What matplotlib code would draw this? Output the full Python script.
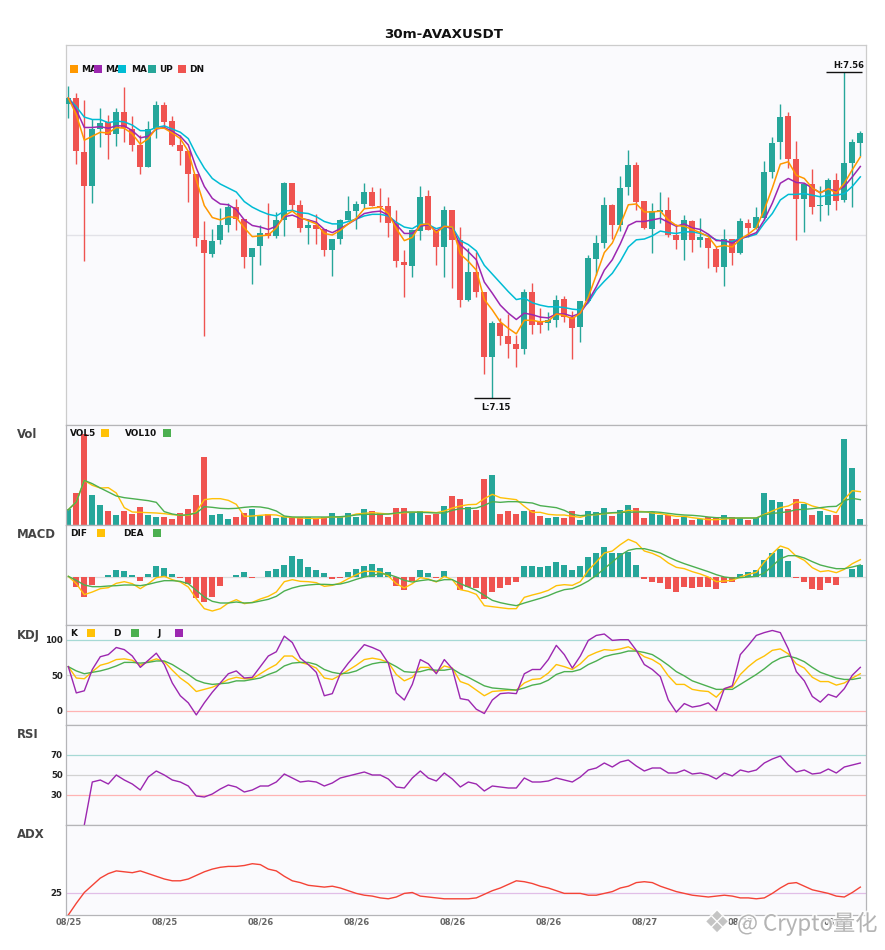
import matplotlib
matplotlib.use('Agg')
import matplotlib.pyplot as plt
import matplotlib.patheffects as pe
from matplotlib.patches import Rectangle

# candles
opens = [7.520, 7.527, 7.459, 7.416, 7.488, 7.497, 7.482, 7.510, 7.488, 7.468,
         7.441, 7.488, 7.518, 7.498, 7.468, 7.461, 7.431, 7.349, 7.331, 7.349,
         7.367, 7.390, 7.375, 7.327, 7.341, 7.358, 7.354, 7.374, 7.420, 7.393,
         7.364, 7.368, 7.362, 7.336, 7.350, 7.374, 7.385, 7.394, 7.409, 7.392,
         7.392, 7.370, 7.321, 7.316, 7.360, 7.404, 7.361, 7.340, 7.386, 7.349,
         7.274, 7.308, 7.284, 7.202, 7.244, 7.228, 7.218, 7.212, 7.284, 7.246,
         7.244, 7.249, 7.275, 7.252, 7.240, 7.272, 7.325, 7.345, 7.393, 7.368,
         7.415, 7.443, 7.398, 7.363, 7.384, 7.387, 7.355, 7.349, 7.373, 7.349,
         7.351, 7.338, 7.315, 7.350, 7.333, 7.370, 7.364, 7.377, 7.434, 7.472,
         7.505, 7.451, 7.400, 7.419, 7.392, 7.393, 7.424, 7.399, 7.446, 7.471]
closes = [7.527, 7.460, 7.416, 7.488, 7.496, 7.481, 7.510, 7.489, 7.468, 7.441,
          7.488, 7.518, 7.497, 7.468, 7.461, 7.432, 7.351, 7.332, 7.348, 7.367,
          7.390, 7.375, 7.327, 7.339, 7.358, 7.354, 7.374, 7.420, 7.393, 7.364,
          7.368, 7.362, 7.336, 7.350, 7.374, 7.385, 7.394, 7.409, 7.392, 7.390,
          7.370, 7.322, 7.317, 7.361, 7.403, 7.361, 7.340, 7.386, 7.349, 7.274,
          7.309, 7.284, 7.202, 7.244, 7.228, 7.218, 7.212, 7.284, 7.242, 7.242,
          7.249, 7.274, 7.252, 7.238, 7.272, 7.326, 7.345, 7.393, 7.368, 7.414,
          7.443, 7.397, 7.364, 7.385, 7.387, 7.355, 7.349, 7.374, 7.349, 7.353,
          7.339, 7.315, 7.350, 7.333, 7.372, 7.364, 7.378, 7.434, 7.471, 7.503,
          7.451, 7.400, 7.419, 7.390, 7.393, 7.424, 7.398, 7.446, 7.472, 7.483]
highs = [7.542, 7.533, 7.525, 7.501, 7.514, 7.506, 7.514, 7.541, 7.505, 7.481,
         7.498, 7.523, 7.522, 7.505, 7.481, 7.461, 7.431, 7.372, 7.362, 7.389,
         7.395, 7.400, 7.375, 7.339, 7.367, 7.395, 7.384, 7.422, 7.420, 7.399,
         7.374, 7.382, 7.362, 7.350, 7.375, 7.404, 7.398, 7.420, 7.415, 7.414,
         7.403, 7.386, 7.336, 7.361, 7.417, 7.412, 7.361, 7.391, 7.386, 7.365,
         7.339, 7.334, 7.284, 7.247, 7.251, 7.256, 7.230, 7.287, 7.295, 7.264,
         7.259, 7.280, 7.279, 7.260, 7.272, 7.330, 7.355, 7.403, 7.394, 7.429,
         7.462, 7.447, 7.398, 7.395, 7.409, 7.403, 7.369, 7.380, 7.374, 7.377,
         7.351, 7.341, 7.362, 7.350, 7.377, 7.375, 7.390, 7.448, 7.478, 7.520,
         7.510, 7.473, 7.419, 7.438, 7.417, 7.427, 7.433, 7.560, 7.476, 7.486]
lows = [7.502, 7.444, 7.323, 7.395, 7.466, 7.451, 7.467, 7.472, 7.460, 7.432,
        7.440, 7.477, 7.491, 7.467, 7.443, 7.397, 7.341, 7.228, 7.327, 7.344,
        7.359, 7.361, 7.314, 7.293, 7.317, 7.351, 7.351, 7.354, 7.387, 7.359,
        7.344, 7.344, 7.329, 7.304, 7.344, 7.374, 7.363, 7.389, 7.391, 7.371,
        7.353, 7.315, 7.277, 7.302, 7.349, 7.361, 7.317, 7.302, 7.289, 7.265,
        7.272, 7.277, 7.181, 7.150, 7.217, 7.201, 7.190, 7.206, 7.231, 7.232,
        7.236, 7.240, 7.246, 7.200, 7.221, 7.271, 7.305, 7.339, 7.350, 7.360,
        7.405, 7.387, 7.363, 7.333, 7.370, 7.352, 7.338, 7.324, 7.334, 7.340,
        7.314, 7.309, 7.291, 7.318, 7.331, 7.352, 7.362, 7.374, 7.427, 7.451,
        7.439, 7.349, 7.359, 7.382, 7.373, 7.380, 7.387, 7.397, 7.390, 7.454]

ma_fast = [7.527, 7.506, 7.474, 7.479, 7.484, 7.483, 7.490, 7.489, 7.482, 7.469,
           7.476, 7.489, 7.489, 7.483, 7.476, 7.460, 7.424, 7.392, 7.377, 7.374,
           7.378, 7.377, 7.364, 7.353, 7.354, 7.355, 7.364, 7.379, 7.385, 7.377,
           7.373, 7.369, 7.357, 7.355, 7.361, 7.369, 7.376, 7.388, 7.389, 7.390,
           7.382, 7.363, 7.348, 7.352, 7.368, 7.369, 7.358, 7.366, 7.365, 7.331,
           7.322, 7.311, 7.274, 7.261, 7.246, 7.238, 7.231, 7.248, 7.248, 7.246,
           7.247, 7.256, 7.254, 7.250, 7.257, 7.277, 7.305, 7.333, 7.345, 7.368,
           7.393, 7.394, 7.384, 7.384, 7.385, 7.374, 7.367, 7.366, 7.362, 7.358,
           7.353, 7.340, 7.342, 7.340, 7.350, 7.356, 7.364, 7.387, 7.414, 7.444,
           7.447, 7.430, 7.426, 7.414, 7.408, 7.413, 7.408, 7.420, 7.437, 7.453]
ma_mid = [7.527, 7.512, 7.490, 7.490, 7.491, 7.489, 7.492, 7.492, 7.486, 7.477,
          7.479, 7.488, 7.490, 7.485, 7.479, 7.468, 7.439, 7.416, 7.401, 7.394,
          7.393, 7.387, 7.374, 7.367, 7.365, 7.362, 7.366, 7.378, 7.380, 7.376,
          7.374, 7.371, 7.362, 7.358, 7.363, 7.369, 7.375, 7.382, 7.384, 7.385,
          7.380, 7.368, 7.357, 7.357, 7.366, 7.368, 7.360, 7.366, 7.363, 7.343,
          7.334, 7.324, 7.296, 7.282, 7.267, 7.257, 7.249, 7.257, 7.255, 7.252,
          7.251, 7.256, 7.256, 7.253, 7.257, 7.272, 7.290, 7.311, 7.324, 7.344,
          7.367, 7.372, 7.372, 7.374, 7.376, 7.371, 7.366, 7.369, 7.364, 7.362,
          7.356, 7.348, 7.348, 7.345, 7.350, 7.354, 7.358, 7.374, 7.395, 7.420,
          7.426, 7.421, 7.420, 7.414, 7.408, 7.413, 7.410, 7.416, 7.428, 7.441]
ma_slow = [7.527, 7.516, 7.503, 7.500, 7.500, 7.496, 7.498, 7.497, 7.493, 7.486,
           7.486, 7.490, 7.492, 7.488, 7.484, 7.476, 7.456, 7.439, 7.426, 7.419,
           7.414, 7.409, 7.397, 7.390, 7.385, 7.381, 7.379, 7.385, 7.386, 7.383,
           7.382, 7.378, 7.372, 7.369, 7.369, 7.372, 7.375, 7.379, 7.381, 7.381,
           7.379, 7.371, 7.365, 7.363, 7.369, 7.368, 7.363, 7.366, 7.365, 7.348,
           7.343, 7.335, 7.317, 7.306, 7.295, 7.284, 7.274, 7.276, 7.270, 7.267,
           7.265, 7.265, 7.264, 7.262, 7.261, 7.270, 7.286, 7.297, 7.307, 7.322,
           7.340, 7.349, 7.350, 7.354, 7.360, 7.358, 7.357, 7.359, 7.359, 7.357,
           7.354, 7.349, 7.347, 7.347, 7.351, 7.353, 7.356, 7.370, 7.382, 7.399,
           7.406, 7.406, 7.407, 7.405, 7.403, 7.405, 7.405, 7.407, 7.416, 7.428]

volume = [47, 95, 274, 89, 59, 41, 29, 41, 32, 53,
          29, 23, 23, 17, 35, 47, 89, 203, 29, 32,
          17, 23, 35, 47, 26, 32, 20, 23, 23, 23,
          23, 20, 23, 35, 23, 35, 23, 47, 41, 35,
          23, 50, 50, 38, 41, 29, 32, 56, 86, 77,
          53, 44, 137, 149, 32, 41, 32, 41, 44, 26,
          20, 23, 20, 41, 14, 41, 38, 50, 26, 44,
          59, 50, 20, 38, 29, 29, 17, 23, 14, 17,
          23, 20, 29, 23, 20, 14, 20, 95, 74, 68,
          47, 77, 62, 29, 41, 29, 29, 257, 170, 17]
vol5 = [46, 69, 134, 119, 111, 112, 96, 52, 39, 38,
        37, 36, 34, 31, 29, 29, 39, 76, 79, 79,
        74, 62, 26, 27, 29, 31, 30, 24, 23, 21,
        20, 19, 22, 24, 24, 26, 33, 35, 37, 35,
        33, 35, 37, 38, 39, 39, 37, 42, 51, 57,
        61, 62, 79, 92, 82, 79, 76, 56, 38, 38,
        32, 30, 30, 26, 23, 30, 31, 34, 36, 37,
        44, 41, 40, 36, 34, 30, 26, 26, 22, 19,
        16, 16, 18, 20, 21, 21, 21, 32, 42, 52,
        57, 69, 67, 57, 51, 44, 37, 77, 103, 100]
vol10 = [46, 69, 134, 124, 111, 99, 87, 82, 79, 76,
         73, 68, 40, 33, 29, 31, 36, 55, 53, 50,
         49, 50, 53, 55, 54, 50, 42, 27, 24, 24,
         24, 24, 24, 24, 25, 27, 30, 32, 32, 32,
         33, 36, 39, 39, 38, 37, 36, 36, 44, 49,
         49, 51, 59, 70, 68, 70, 70, 68, 66, 58,
         55, 52, 44, 32, 28, 30, 33, 35, 37, 38,
         38, 39, 39, 40, 38, 35, 32, 30, 29, 27,
         24, 22, 22, 21, 21, 21, 21, 30, 35, 37,
         40, 46, 47, 49, 52, 55, 56, 73, 80, 76]

macd_hist = [0, -32, -62, -26, -2, 4, 19, 16, 4, -14,
             7, 31, 25, 7, -5, -23, -65, -77, -62, -29,
             0, 4, 13, -5, 0, 16, 22, 34, 61, 52,
             28, 19, 10, -8, -5, 13, 22, 31, 37, 25,
             13, -29, -41, -14, 19, 10, -5, 16, 0, -41,
             -32, -35, -68, -47, -35, -26, -17, 31, 31, 28,
             31, 43, 34, 19, 31, 58, 70, 88, 70, 70,
             73, 34, -8, -17, -20, -38, -47, -32, -35, -32,
             -32, -38, -20, -17, 7, 13, 19, 49, 70, 82,
             46, -5, -17, -38, -41, -20, -26, 0, 22, 34]
dif = [1, -21, -54, -46, -36, -33, -20, -15, -21, -36,
       -21, -3, 1, -9, -16, -31, -66, -96, -103, -96,
       -79, -69, -81, -77, -67, -59, -46, -15, -9, -14,
       -15, -18, -29, -26, -19, -6, 6, 16, 16, 14,
       2, -21, -34, -21, -3, -7, -16, 1, -9, -39,
       -44, -53, -87, -90, -93, -96, -96, -62, -55, -49,
       -41, -27, -24, -26, -15, 19, 44, 71, 77, 96,
       112, 102, 77, 70, 59, 41, 28, 24, 15, 8,
       -1, -15, -13, -11, -1, 7, 13, 44, 69, 92,
       84, 61, 49, 27, 15, 18, 12, 22, 39, 51]
dea = [1, -11, -25, -30, -30, -28, -27, -25, -25, -27,
       -23, -17, -12, -12, -14, -21, -41, -61, -74, -79,
       -79, -76, -79, -78, -73, -68, -59, -43, -34, -28,
       -25, -23, -23, -24, -22, -16, -8, -1, 4, 9,
       7, -1, -11, -16, -12, -9, -14, -9, -9, -21,
       -31, -41, -56, -71, -78, -83, -87, -79, -72, -65,
       -57, -47, -39, -36, -26, -13, 4, 24, 44, 64,
       79, 84, 84, 78, 71, 59, 48, 39, 31, 23,
       15, 6, -1, -4, -3, -1, 1, 11, 32, 54,
       63, 63, 56, 45, 35, 29, 24, 24, 29, 35]

kdj_k = [62, 46, 45, 55, 64, 67, 72, 73, 71, 64,
         69, 73, 69, 57, 46, 38, 27, 30, 33, 38,
         44, 47, 45, 45, 52, 59, 65, 77, 77, 68,
         65, 60, 46, 44, 50, 57, 64, 72, 74, 72,
         68, 51, 42, 47, 61, 61, 54, 63, 60, 41,
         37, 29, 21, 27, 28, 29, 29, 39, 44, 45,
         53, 65, 62, 58, 66, 77, 82, 86, 85, 87,
         90, 84, 76, 72, 65, 49, 37, 37, 30, 28,
         27, 19, 31, 33, 51, 62, 71, 77, 85, 87,
         80, 66, 60, 47, 41, 41, 36, 39, 46, 52]
kdj_d = [62, 56, 52, 54, 56, 59, 63, 68, 68, 67,
         68, 70, 70, 65, 58, 51, 43, 39, 37, 38,
         39, 42, 42, 44, 46, 51, 55, 63, 67, 68,
         68, 65, 58, 54, 52, 53, 56, 62, 66, 68,
         68, 62, 55, 54, 55, 58, 57, 57, 59, 52,
         47, 41, 35, 32, 31, 30, 29, 32, 36, 38,
         43, 51, 55, 55, 58, 65, 70, 76, 79, 81,
         84, 84, 82, 79, 72, 64, 55, 49, 42, 38,
         34, 30, 30, 30, 37, 44, 51, 59, 68, 74,
         77, 74, 69, 61, 54, 50, 46, 44, 44, 46]
kdj_j = [62, 25, 28, 58, 76, 79, 89, 86, 77, 61,
         71, 81, 65, 39, 21, 11, -6, 11, 26, 39,
         52, 56, 46, 47, 62, 77, 83, 105, 96, 74,
         65, 54, 21, 24, 52, 67, 80, 93, 89, 84,
         67, 25, 15, 37, 72, 66, 52, 72, 59, 17,
         15, 2, -4, 15, 24, 25, 24, 52, 58, 58,
         72, 92, 79, 60, 77, 99, 106, 108, 99, 100,
         100, 85, 65, 58, 48, 15, -2, 10, 5, 7,
         11, 0, 31, 35, 79, 92, 106, 110, 113, 110,
         87, 55, 42, 20, 12, 23, 19, 31, 50, 61]

rsi = [None, None, 0, 43, 45, 41, 50, 45, 41, 35,
       48, 54, 50, 45, 43, 39, 29, 28, 31, 36,
       40, 38, 33, 35, 39, 39, 43, 51, 47, 43,
       44, 43, 39, 42, 47, 49, 51, 53, 50, 50,
       46, 38, 37, 47, 54, 47, 44, 52, 46, 38,
       43, 41, 34, 39, 38, 37, 37, 47, 43, 43,
       44, 47, 45, 43, 48, 55, 57, 62, 58, 63,
       65, 59, 54, 57, 57, 52, 52, 55, 51, 52,
       50, 46, 52, 49, 55, 53, 55, 62, 66, 69,
       60, 53, 55, 51, 52, 56, 52, 58, 60, 62]
adx = [0, 13, 25, 33, 41, 46, 49, 48, 47, 49,
       46, 43, 40, 38, 38, 40, 44, 48, 51, 53,
       54, 54, 55, 57, 56, 51, 49, 43, 38, 36,
       33, 32, 31, 32, 30, 27, 24, 22, 21, 19,
       18, 20, 24, 25, 21, 20, 19, 18, 18, 18,
       18, 19, 23, 27, 30, 34, 38, 37, 35, 32,
       30, 27, 24, 24, 24, 22, 22, 24, 26, 30,
       32, 36, 37, 36, 32, 29, 26, 24, 22, 21,
       20, 21, 22, 21, 19, 19, 18, 19, 24, 30,
       35, 36, 32, 28, 26, 24, 21, 20, 25, 31]

date_labels = ['08/25', '08/25', '08/26', '08/26', '08/26', '08/26', '08/27', '08/27', '08/27']

TEAL = '#26A69A'
RED = '#EF5350'
ORANGE = '#FF9800'
PURPLE = '#9C27B0'
CYAN = '#00BCD4'
YELLOW = '#FFC107'
GREEN = '#4CAF50'
PANEL_BG = '#FAFAFD'

W, H = 885, 950
fig = plt.figure(figsize=(W / 100, H / 100), dpi=100, facecolor='white')
xs = list(range(len(closes)))


def make_axes(top, bottom):
    left, right = 65.5, 866
    ax = fig.add_axes([left / W, 1 - bottom / H, (right - left) / W, (bottom - top) / H])
    ax.set_facecolor(PANEL_BG)
    ax.set_xlim(-0.35, 99.71)
    ax.set_xticks([])
    ax.tick_params(axis='y', length=0, pad=2, labelsize=6.2, labelcolor='#222222')
    for side in ax.spines:
        ax.spines[side].set_color('#b5b5b8')
        ax.spines[side].set_linewidth(0.9)
    return ax


def set_levels(ax, levels, colors):
    ax.set_yticks(levels)
    ax.set_yticklabels([str(v) for v in levels], fontweight='bold')
    for v, c in zip(levels, colors):
        ax.axhline(v, color=c, lw=0.9, zorder=1)


def px_text(x, y, s, size=6.4, color='#111111'):
    fig.text(x / W, 1 - y / H, s, fontsize=size, fontweight='bold', color=color,
             ha='left', va='center', zorder=6)


def px_square(x, y, color):
    fig.add_artist(Rectangle((x / W, 1 - (y + 4) / H), 8 / W, 8 / H, color=color, lw=0,
                             transform=fig.transFigure, zorder=7))


fig.text(443.5 / W, 1 - 34.5 / H, '30m-AVAXUSDT', fontsize=9.6, fontweight='bold',
         color='#111111', ha='center', va='center')

# main candle panel
ax_main = make_axes(45, 425)
ax_main.set_ylim(7.1166, 7.5935)
ax_main.set_yticks([])
for side in ax_main.spines:
    ax_main.spines[side].set_color('#cccccc')
ax_main.axhline(7.355, color='#e2e2e8', lw=1, zorder=1)
candle_colors = [TEAL if c >= o else RED for o, c in zip(opens, closes)]
ax_main.vlines(xs, lows, highs, colors=candle_colors, lw=1, zorder=2)
ax_main.bar(xs, [c - o for o, c in zip(opens, closes)], bottom=opens, width=0.75,
            color=candle_colors, zorder=3)
ax_main.plot(xs, ma_slow, color=CYAN, lw=1.1, zorder=4)
ax_main.plot(xs, ma_mid, color=PURPLE, lw=1.1, zorder=4)
ax_main.plot(xs, ma_fast, color=ORANGE, lw=1.1, zorder=4)

# high and low marks
i_high = highs.index(max(highs))
i_low = lows.index(min(lows))
ax_main.hlines(highs[i_high], i_high - 2.25, i_high + 2.25, color='#111111', lw=1, zorder=5)
ax_main.hlines(lows[i_low], i_low - 2.25, i_low + 2.25, color='#111111', lw=1, zorder=5)
ax_main.annotate('H:%.2f' % highs[i_high], (i_high, highs[i_high]), xytext=(3, 4.5),
                 textcoords='offset points', ha='center', va='center', fontsize=6,
                 fontweight='bold', color='#111111', annotation_clip=False, zorder=6)
ax_main.annotate('L:%.2f' % lows[i_low], (i_low, lows[i_low]), xytext=(2.5, -6.5),
                 textcoords='offset points', ha='center', va='center', fontsize=6,
                 fontweight='bold', color='#111111', zorder=6)

for x_sq, col in zip([70, 94, 118, 148, 178], [ORANGE, PURPLE, CYAN, TEAL, RED]):
    px_square(x_sq, 69, col)
for x_txt, s in zip([81, 105, 131, 159, 189], ['MA', 'MA', 'MA', 'UP', 'DN']):
    px_text(x_txt, 69, s)

# volume
ax_vol = make_axes(425, 525)
ax_vol.set_ylim(0, 300)
ax_vol.set_yticks([])
ax_vol.bar(xs, volume, width=0.75, color=candle_colors, zorder=2)
ax_vol.plot(xs, vol5, color=YELLOW, lw=1, zorder=3)
ax_vol.plot(xs, vol10, color=GREEN, lw=1, zorder=3)
px_text(17, 434.5, 'Vol', size=8.4, color='#444444')
px_text(70, 433.5, 'VOL5')
px_text(125, 433.5, 'VOL10')
px_square(101, 433, YELLOW)
px_square(163, 433, GREEN)

# macd
ax_macd = make_axes(525, 625)
ax_macd.set_ylim(-145, 155)
ax_macd.set_yticks([])
ax_macd.axhline(0, color='#dddddd', lw=0.9, zorder=1)
ax_macd.bar(xs, macd_hist, width=0.75, color=[TEAL if v >= 0 else RED for v in macd_hist], zorder=2)
ax_macd.plot(xs, dif, color=YELLOW, lw=1, zorder=3)
ax_macd.plot(xs, dea, color=GREEN, lw=1, zorder=3)
px_text(17, 535, 'MACD', size=8.4, color='#444444')
px_text(70, 534, 'DIF')
px_text(123, 534, 'DEA')
px_square(97, 533, YELLOW)
px_square(153, 533, GREEN)

# kdj
ax_kdj = make_axes(625, 725)
ax_kdj.set_ylim(-20.2, 120.7)
set_levels(ax_kdj, [0, 50, 100], ['#ffb3b3', '#d2d2d2', '#a6d9d5'])
ax_kdj.plot(xs, kdj_k, color=YELLOW, lw=1, zorder=3)
ax_kdj.plot(xs, kdj_d, color=GREEN, lw=1, zorder=3)
ax_kdj.plot(xs, kdj_j, color=PURPLE, lw=1, zorder=3)
px_text(17, 635, 'KDJ', size=8.4, color='#444444')
px_text(70, 633.5, 'K')
px_text(113, 633.5, 'D')
px_text(157, 633.5, 'J')
px_square(87, 633, YELLOW)
px_square(131, 633, GREEN)
px_square(175, 633, PURPLE)

# rsi
ax_rsi = make_axes(725, 825)
ax_rsi.set_ylim(0, 100)
set_levels(ax_rsi, [30, 50, 70], ['#ffb3b3', '#d2d2d2', '#a6d9d5'])
ax_rsi.plot(xs, rsi, color=PURPLE, lw=1, zorder=3)
px_text(17, 735, 'RSI', size=8.4, color='#444444')

# adx
ax_adx = make_axes(825, 915)
ax_adx.set_ylim(0, 100)
set_levels(ax_adx, [25], ['#e1bee7'])
ax_adx.plot(xs, adx, color='#F44336', lw=1, zorder=3)
ax_adx.set_xticks(xs[::12])
ax_adx.set_xticklabels(date_labels, fontsize=6, fontweight='bold', color='#666666')
ax_adx.tick_params(axis='x', length=0, pad=1.5)
px_text(17, 835, 'ADX', size=8.4, color='#444444')

# watermark, washes out the last date labels like in the reference
halo = [pe.withStroke(linewidth=2.5, foreground='white', alpha=0.8)]
fig.text(717 / W, 1 - 924 / H, '\u2756', fontsize=21, color='#c4c4c4', ha='center', va='center',
         family=['DejaVu Sans'], zorder=8, path_effects=halo)
fig.text(737 / W, 1 - 924 / H, '@ Crypto\u91cf\u5316', fontsize=16, color='#b4b4b4', ha='left',
         va='center', family=['Noto Sans CJK SC', 'DejaVu Sans'], zorder=8, path_effects=halo)

fig.savefig('out.png', dpi=100)
